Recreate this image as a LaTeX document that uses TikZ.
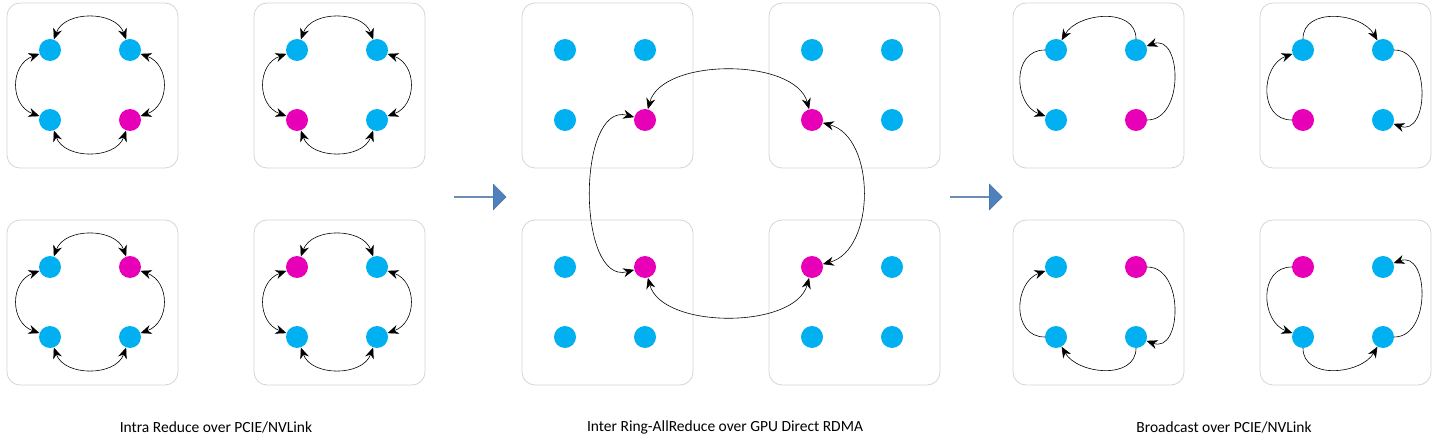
\documentclass[tikz,border=0pt]{standalone}
\usepackage{fontspec}
\setmainfont{Carlito}
\usetikzlibrary{arrows.meta,shapes.arrows}
\definecolor{gcy}{HTML}{00B0F0}
\definecolor{gmg}{HTML}{E800B8}
\definecolor{boxc}{HTML}{D4D4D8}
\definecolor{barr}{HTML}{4F81BD}
\begin{document}
\begin{tikzpicture}[x=1pt,y=1pt,
  box/.style={draw=boxc,rounded corners=13pt,line width=0.8pt},
  gpu/.style={circle,inner sep=0pt,minimum size=22pt},
  cy/.style={gpu,fill=gcy},
  mg/.style={gpu,fill=gmg},
  ar/.style={-{Stealth[length=11pt,width=9pt]},line width=0.6pt},
  bi/.style={{Stealth[length=11pt,width=9pt]}-{Stealth[length=11pt,width=9pt]},line width=0.6pt},
  lab/.style={font=\fontsize{15.5pt}{18pt}\selectfont},
  blk/.style={single arrow,fill=barr,draw=barr!80!black,minimum height=52pt,minimum width=26pt,single arrow head extend=6pt,inner sep=0pt,single arrow head indent=0pt}]
\useasboundingbox (0,0) rectangle (1440,445);
\foreach \n/\l/\t/\m in {a/7/442/br,b/254/442/bl,c/7/225/tr,d/254/225/tl,
  e/522/442/br,f/769/442/bl,g/522/225/tr,h/769/225/tl,
  i/1013/442/br,j/1260/442/bl,k/1013/225/tr,l/1260/225/tl}{
  \draw[box] (\l,\t) rectangle ++(171,-165);
  \foreach \p/\dx/\dy in {tl/43/47,tr/123/47,bl/43/117,br/123/117}{
    \ifx\p\m \def\st{mg}\else\def\st{cy}\fi
    \node[\st] (\n\p) at (\l+\dx,\t-\dy) {};
  }
}
\foreach \n in {a,b,c,d}{
  \draw[bi] (\n tl) to[out=70,in=110,looseness=1.1] (\n tr);
  \draw[bi] (\n tr) to[out=-20,in=20,looseness=1.3] (\n br);
  \draw[bi] (\n br) to[out=-110,in=-70,looseness=1.1] (\n bl);
  \draw[bi] (\n bl) to[out=160,in=200,looseness=1.3] (\n tl);
}
\draw[bi] (ebr) to[out=75,in=105,looseness=0.85] (fbl);
\draw[bi] (fbl) to[out=-15,in=15,looseness=1.0] (htl);
\draw[bi] (htl) to[out=-105,in=-75,looseness=0.85] (gtr);
\draw[bi] (gtr) to[out=195,in=165,looseness=1.0] (ebr);
\draw[ar] (ibr.east) to[out=0,in=20,looseness=1.3] (itr);
\draw[ar] (itr.north) to[out=90,in=60,looseness=1.1] (itl);
\draw[ar] (itl.west) to[out=180,in=160,looseness=1.3] (ibl);
\draw[ar] (jbl.west) to[out=180,in=200,looseness=1.3] (jtl);
\draw[ar] (jtl.north) to[out=90,in=120,looseness=1.1] (jtr);
\draw[ar] (jtr.east) to[out=0,in=-20,looseness=1.3] (jbr);
\draw[ar] (ktr.east) to[out=0,in=-20,looseness=1.3] (kbr);
\draw[ar] (kbr.south) to[out=-90,in=-60,looseness=1.1] (kbl);
\draw[ar] (kbl.west) to[out=180,in=200,looseness=1.3] (ktl);
\draw[ar] (ltl.west) to[out=180,in=160,looseness=1.3] (lbl);
\draw[ar] (lbl.south) to[out=-90,in=-120,looseness=1.1] (lbr);
\draw[ar] (lbr.east) to[out=0,in=20,looseness=1.3] (ltr);
\node[blk] (s1) at (480,248) {};
\node[blk] (s2) at (976,248) {};
\node[lab] (t1) at (216,18) {Intra Reduce over PCIE/NVLink};
\node[lab] (t2) at (725,18) {Inter Ring-AllReduce over GPU Direct RDMA};
\node[lab] (t3) at (1224,18) {Broadcast over PCIE/NVLink};
\end{tikzpicture}
\end{document}
